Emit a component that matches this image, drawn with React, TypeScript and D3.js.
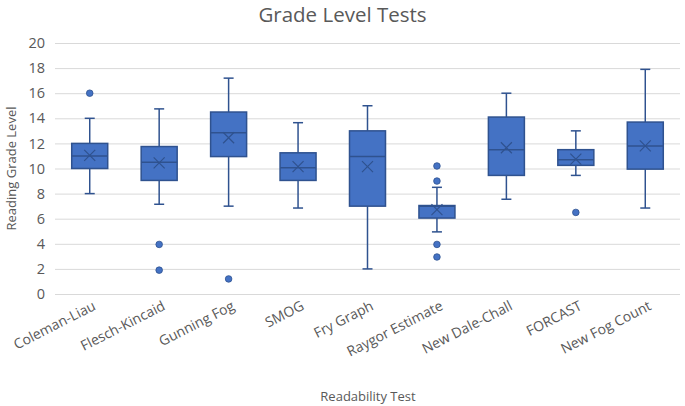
import React from "react";
import * as d3 from "d3";

const categories = [
  "Coleman-Liau",
  "Flesch-Kincaid",
  "Gunning Fog",
  "SMOG",
  "Fry Graph",
  "Raygor Estimate",
  "New Dale-Chall",
  "FORCAST",
  "New Fog Count",
];

// [low whisker, Q1, median, Q3, high whisker]
const boxStats = [
  [8, 10, 11, 12, 14],
  [7.15, 9.05, 10.5, 11.75, 14.75],
  [7, 10.95, 12.85, 14.5, 17.2],
  [6.85, 9.05, 10.05, 11.25, 13.65],
  [2, 7, 10.95, 13, 15],
  [4.95, 6.05, 7, 7.05, 8.5],
  [7.55, 9.45, 11.5, 14.1, 16],
  [9.45, 10.25, 10.7, 11.5, 13],
  [6.85, 9.95, 11.8, 13.7, 17.9],
];

const means = [11.05, 10.45, 12.45, 10.15, 10.15, 6.72, 11.65, 10.75, 11.8];

const outliers = [
  [16],
  [3.95, 1.9],
  [1.2],
  [],
  [],
  [10.2, 9, 3.95, 2.95],
  [],
  [6.5],
  [],
];

const yTicks = [0, 2, 4, 6, 8, 10, 12, 14, 16, 18, 20];

const W = 685;
const H = 406;
const margin = { left: 55, right: 5, top: 43, bottom: 112 };
const fill = "#4472C4";
const dark = "#2F528F";
const textColor = "#595959";
const font = "'Open Sans', sans-serif";

const App = () => {
  const svgRef = React.useRef(null);

  React.useEffect(() => {
    const x = d3
      .scaleBand()
      .domain(categories)
      .range([margin.left, W - margin.right])
      .padding(0);
    const y = d3
      .scaleLinear()
      .domain([0, 20])
      .range([H - margin.bottom, margin.top]);

    const svg = d3.select(svgRef.current);
    svg.selectAll("*").remove();

    // gridlines + y labels
    const yAxis = d3
      .axisLeft(y)
      .tickValues(yTicks)
      .tickSize(-(W - margin.right - margin.left))
      .tickPadding(10);
    const yg = svg
      .append("g")
      .attr("transform", `translate(${margin.left},0)`)
      .call(yAxis);
    yg.select(".domain").remove();
    yg.selectAll("line").attr("stroke", "#d9d9d9").attr("stroke-width", 1);
    yg.selectAll("text")
      .attr("fill", textColor)
      .attr("font-size", "14.5px")
      .attr("font-family", font);

    const bw = 36;
    const cap = 10;
    const g = svg.append("g");

    categories.forEach((c, i) => {
      const cx = x(c) + x.bandwidth() / 2;
      const [lo, q1, med, q3, hi] = boxStats[i];
      const cg = g.append("g");
      // whiskers
      cg.append("line")
        .attr("x1", cx).attr("x2", cx)
        .attr("y1", y(hi)).attr("y2", y(q3))
        .attr("stroke", dark).attr("stroke-width", 1.5);
      cg.append("line")
        .attr("x1", cx).attr("x2", cx)
        .attr("y1", y(q1)).attr("y2", y(lo))
        .attr("stroke", dark).attr("stroke-width", 1.5);
      [hi, lo].forEach((v) =>
        cg.append("line")
          .attr("x1", cx - cap / 2).attr("x2", cx + cap / 2)
          .attr("y1", y(v)).attr("y2", y(v))
          .attr("stroke", dark).attr("stroke-width", 1.5)
      );
      // box
      cg.append("rect")
        .attr("x", cx - bw / 2)
        .attr("width", bw)
        .attr("y", y(q3))
        .attr("height", y(q1) - y(q3))
        .attr("fill", fill)
        .attr("stroke", dark)
        .attr("stroke-width", 1.5);
      cg.append("line")
        .attr("x1", cx - bw / 2).attr("x2", cx + bw / 2)
        .attr("y1", y(med)).attr("y2", y(med))
        .attr("stroke", dark).attr("stroke-width", 1.5);
      // mean marker
      const m = y(means[i]);
      const s = 5.5;
      cg.append("path")
        .attr("d", `M${cx - s},${m - s}L${cx + s},${m + s}M${cx - s},${m + s}L${cx + s},${m - s}`)
        .attr("stroke", dark)
        .attr("stroke-width", 1.2)
        .attr("fill", "none");
      // outliers
      cg.selectAll("circle")
        .data(outliers[i])
        .enter()
        .append("circle")
        .attr("cx", cx)
        .attr("cy", (d) => y(d))
        .attr("r", 3.3)
        .attr("fill", fill)
        .attr("stroke", dark)
        .attr("stroke-width", 0.8);
    });

    // x labels
    const xl = svg.append("g");
    categories.forEach((c) => {
      const cx = x(c) + x.bandwidth() / 2;
      xl.append("text")
        .attr("transform", `translate(${cx + 7},${H - margin.bottom + 15}) rotate(-27)`)
        .attr("text-anchor", "end")
        .attr("fill", textColor)
        .attr("font-size", "14px")
        .attr("font-family", font)
        .text(c);
    });

    svg.append("text")
      .attr("x", W / 2)
      .attr("y", 22)
      .attr("text-anchor", "middle")
      .attr("fill", textColor)
      .attr("font-size", "20.5px")
      .attr("font-family", font)
      .text("Grade Level Tests");

    svg.append("text")
      .attr("x", 368)
      .attr("y", 401)
      .attr("text-anchor", "middle")
      .attr("fill", textColor)
      .attr("font-size", "13px")
      .attr("font-family", font)
      .text("Readability Test");

    svg.append("text")
      .attr("transform", `translate(16,${(margin.top + H - margin.bottom) / 2}) rotate(-90)`)
      .attr("text-anchor", "middle")
      .attr("fill", textColor)
      .attr("font-size", "13px")
      .attr("font-family", font)
      .text("Reading Grade Level");
  }, []);

  return (
    <svg
      ref={svgRef}
      width={W}
      height={H}
      style={{ position: "absolute", left: 0, top: 0, background: "#fff" }}
    />
  );
};

export default App;
